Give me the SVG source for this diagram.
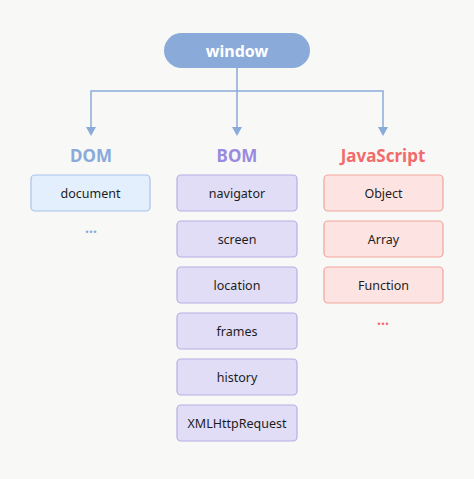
<svg xmlns="http://www.w3.org/2000/svg" width="474" height="479" viewBox="0 0 474 479">
<defs>
<style>
text{font-family:"Noto Sans","Liberation Sans",sans-serif;text-anchor:middle;dominant-baseline:central}
.item{font-size:12.5px;fill:#1d1d1d}
.title{font-size:17px;font-weight:700}
.dom rect{fill:#e4effd;stroke:#a9c3e8;stroke-width:1.2}
.bom rect{fill:#e1ddf6;stroke:#b8aee3;stroke-width:1.2}
.js rect{fill:#fde4e2;stroke:#f1a59d;stroke-width:1.2}
.conn{stroke:#8aaad9;stroke-width:1.5;fill:none}
.head{fill:#8aaad9}
</style>
</defs>
<rect width="474" height="479" fill="#f8f8f7"/>
<g id="connectors">
<path class="conn" d="M91,128 V91 H383 V128"/>
<path class="conn" d="M237,68 V128"/>
<path class="head" d="M86,127 L96,127 L91,136 Z"/>
<path class="head" d="M232,127 L242,127 L237,136 Z"/>
<path class="head" d="M378,127 L388,127 L383,136 Z"/>
</g>
<g id="window">
<rect x="164" y="33" width="146" height="35" rx="17.5" fill="#8aaad9"/>
<text x="237" y="50.5" style="font-size:16px;font-weight:700;fill:#ffffff">window</text>
</g>
<g id="dom" class="dom">
<text class="title" x="91" y="155" style="fill:#8aaad9">DOM</text>
<g id="document"><rect x="31" y="175" width="119" height="36" rx="4"/><text class="item" x="90.5" y="193">document</text></g>
<text x="91" y="227" style="font-size:14px;font-weight:700;fill:#8aaad9">...</text>
</g>
<g id="bom" class="bom">
<text class="title" x="237" y="155" style="fill:#9a8ae0">BOM</text>
<g id="navigator"><rect x="177" y="175" width="120" height="36" rx="4"/><text class="item" x="237" y="193">navigator</text></g>
<g id="screen"><rect x="177" y="221" width="120" height="36" rx="4"/><text class="item" x="237" y="239">screen</text></g>
<g id="location"><rect x="177" y="267" width="120" height="36" rx="4"/><text class="item" x="237" y="285">location</text></g>
<g id="frames"><rect x="177" y="313" width="120" height="36" rx="4"/><text class="item" x="237" y="331">frames</text></g>
<g id="history"><rect x="177" y="359" width="120" height="36" rx="4"/><text class="item" x="237" y="377">history</text></g>
<g id="xhr"><rect x="177" y="405" width="120" height="36" rx="4"/><text class="item" x="237" y="423">XMLHttpRequest</text></g>
</g>
<g id="js" class="js">
<text class="title" x="383" y="155" style="fill:#f26b6b">JavaScript</text>
<g id="object"><rect x="324" y="175" width="119" height="36" rx="4"/><text class="item" x="383.5" y="193">Object</text></g>
<g id="array"><rect x="324" y="221" width="119" height="36" rx="4"/><text class="item" x="383.5" y="239">Array</text></g>
<g id="function"><rect x="324" y="267" width="119" height="36" rx="4"/><text class="item" x="383.5" y="285">Function</text></g>
<text x="383" y="319" style="font-size:14px;font-weight:700;fill:#f26b6b">...</text>
</g>
</svg>
